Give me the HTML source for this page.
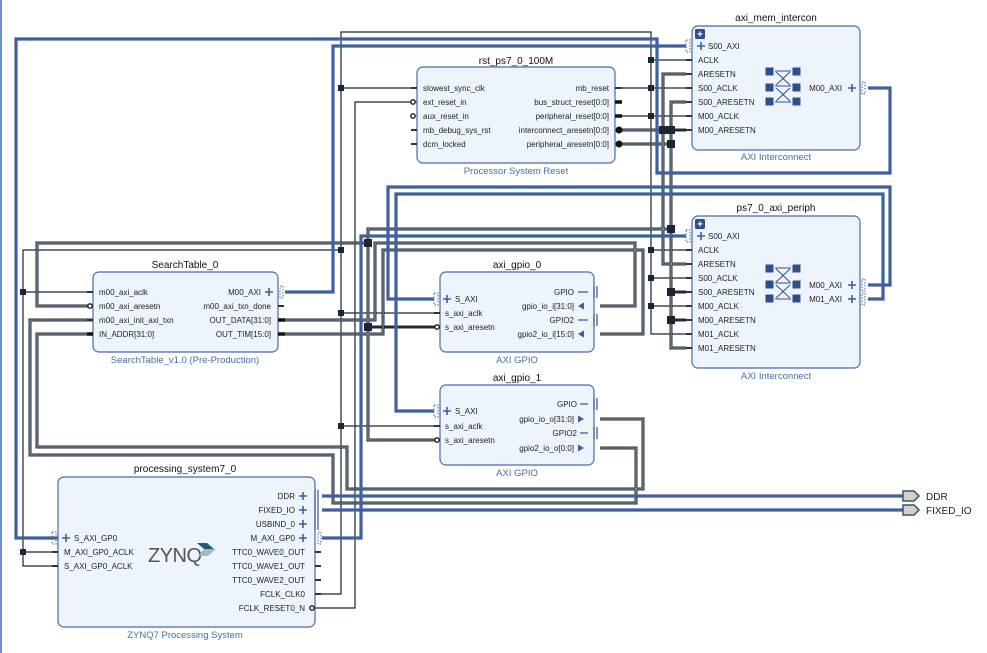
<!DOCTYPE html>
<html><head><meta charset="utf-8"><style>
html,body{margin:0;padding:0;background:#fff;width:987px;height:653px;overflow:hidden}
svg{display:block}
text{font-family:"Liberation Sans",sans-serif}
.p{font-size:8px;fill:#222}
.t{font-size:10px;fill:#111}
.s{font-size:9.5px;fill:#4a6aa8}
.blk{fill:#eef4fc;stroke:#4a6aa8;stroke-width:1.2}
.w{fill:none;stroke:#1a2633;stroke-width:1.2}
.bo{fill:none;stroke:#1f2b36;stroke-width:3}
.bi{fill:none;stroke:#b4c0cb;stroke-width:0.8}
.ax{fill:none;stroke:#3f5f9e;stroke-width:3.2}
.d{fill:#1a2633}
.st{stroke:#333;stroke-width:2}
.pl{stroke:#3f5f9e;stroke-width:1.6}
</style></head><body>
<svg width="987" height="653" viewBox="0 0 987 653" xmlns="http://www.w3.org/2000/svg">
<rect x="0" y="0" width="2" height="653" fill="#6a8fd0"/>

<polyline class="w" points="315,594 341,594 341,32 651,32 651,334 686,334"/>
<line class="w" x1="341" y1="88" x2="417" y2="88"/>
<polyline class="w" points="341,250 23,250 23,566 58,566"/>
<line class="w" x1="23" y1="292" x2="93" y2="292"/>
<line class="w" x1="23" y1="552" x2="58" y2="552"/>
<line class="w" x1="341" y1="313" x2="440" y2="313"/>
<line class="w" x1="341" y1="426" x2="440" y2="426"/>
<line class="w" x1="651" y1="60" x2="686" y2="60"/>
<line class="w" x1="622" y1="88" x2="686" y2="88"/>
<line class="w" x1="622" y1="116" x2="686" y2="116"/>
<line class="w" x1="651" y1="250" x2="686" y2="250"/>
<line class="w" x1="651" y1="278" x2="686" y2="278"/>
<line class="w" x1="651" y1="306" x2="686" y2="306"/>
<polyline class="w" points="315,608 355,608 355,102 417,102"/>

<g>
<polyline class="bo" points="622,130 663,130"/>
<polyline class="bo" points="686,74 663,74 663,264 686,264"/>
<polyline class="bo" points="622,144 671,144"/>
<polyline class="bo" points="686,102 671,102 671,348 686,348"/>
<line class="bo" x1="671" y1="130" x2="686" y2="130"/>
<line class="bo" x1="671" y1="292" x2="686" y2="292"/>
<line class="bo" x1="671" y1="320" x2="686" y2="320"/>
<polyline class="bo" points="671,229 368,229 368,440 440,440"/>
<line class="bo" x1="368" y1="327" x2="440" y2="327"/>
<polyline class="bo" points="368,243 37,243 37,306 93,306"/>
<polyline class="bo" points="600,306 635,306 635,243 375,243 375,320 278,320"/>
<polyline class="bo" points="600,334 643,334 643,250 383,250 383,334 278,334"/>
<polyline class="bo" points="600,419 643,419 643,489 347,489 347,447 37,447 37,334 93,334"/>
<polyline class="bo" points="600,448 636,448 636,503 333,503 333,455 30,455 30,320 93,320"/>
</g>
<g>
<polyline class="bi" points="622,130 663,130"/>
<polyline class="bi" points="686,74 663,74 663,264 686,264"/>
<polyline class="bi" points="622,144 671,144"/>
<polyline class="bi" points="686,102 671,102 671,348 686,348"/>
<polyline class="bi" points="671,229 368,229 368,440 440,440"/>
<polyline class="bi" points="368,243 37,243 37,306 93,306"/>
<polyline class="bi" points="600,306 635,306 635,243 375,243 375,320 278,320"/>
<polyline class="bi" points="600,334 643,334 643,250 383,250 383,334 278,334"/>
<polyline class="bi" points="600,419 643,419 643,489 347,489 347,447 37,447 37,334 93,334"/>
<polyline class="bi" points="600,448 636,448 636,503 333,503 333,455 30,455 30,320 93,320"/>
</g>

<polyline class="ax" points="868,88 890,88 890,173 657,173 657,39 16,39 16,538 58,538"/>
<polyline class="ax" points="285,292 333,292 333,46 686,46"/>
<polyline class="ax" points="322,538 361,538 361,236 686,236"/>
<polyline class="ax" points="868,285 890,285 890,187 388,187 388,299 434,299"/>
<polyline class="ax" points="868,299 883,299 883,194 396,194 396,411 434,411"/>
<line class="ax" x1="322" y1="496" x2="905" y2="496"/>
<line class="ax" x1="322" y1="510" x2="905" y2="510"/>
<path d="M903,491 H914 L919,496 L914,501 H903 Z" fill="#d8d0c8" stroke="#2d5a6a" stroke-width="1.5"/>
<path d="M903,505 H914 L919,510 L914,515 H903 Z" fill="#d8d0c8" stroke="#2d5a6a" stroke-width="1.5"/>
<text x="926" y="500" class="p" style="font-size:10px">DDR</text>
<text x="926" y="514" class="p" style="font-size:10px">FIXED_IO</text>

<g class="d">
<rect x="338" y="85" width="6" height="6"/><rect x="338" y="247" width="6" height="6"/>
<rect x="338" y="310" width="6" height="6"/><rect x="338" y="423" width="6" height="6"/>
<rect x="20" y="289" width="6" height="6"/><rect x="20" y="549" width="6" height="6"/>
<rect x="648" y="57" width="6" height="6"/><rect x="648" y="85" width="6" height="6"/>
<rect x="648" y="113" width="6" height="6"/><rect x="648" y="247" width="6" height="6"/>
<rect x="648" y="275" width="6" height="6"/><rect x="648" y="303" width="6" height="6"/>
<rect x="659" y="126" width="8" height="8"/><rect x="667" y="126" width="8" height="8"/>
<rect x="667" y="140" width="8" height="8"/><rect x="667" y="225" width="8" height="8"/>
<rect x="667" y="288" width="8" height="8"/><rect x="667" y="316" width="8" height="8"/>
<rect x="364" y="239" width="8" height="8"/><rect x="364" y="323" width="8" height="8"/>
</g>

<text x="776" y="21" class="t" text-anchor="middle">axi_mem_intercon</text>
<rect class="blk" x="692" y="26" width="168" height="124" rx="6"/>
<rect x="695" y="29" width="10" height="10" rx="1.5" fill="#2f4f8a"/><text x="700" y="37.5" fill="#fff" font-size="10" text-anchor="middle" font-weight="bold">+</text>
<g class="p">
<text x="708" y="49">S00_AXI</text><text x="698" y="63">ACLK</text><text x="698" y="77">ARESETN</text>
<text x="698" y="91">S00_ACLK</text><text x="698" y="105">S00_ARESETN</text><text x="698" y="119">M00_ACLK</text>
<text x="698" y="133">M00_ARESETN</text><text x="842" y="91" text-anchor="end">M00_AXI</text>
</g>
<text x="776" y="160" class="s" text-anchor="middle">AXI Interconnect</text>

<text x="776" y="211" class="t" text-anchor="middle">ps7_0_axi_periph</text>
<rect class="blk" x="692" y="216" width="168" height="152" rx="6"/>
<rect x="695" y="219" width="10" height="10" rx="1.5" fill="#2f4f8a"/><text x="700" y="227.5" fill="#fff" font-size="10" text-anchor="middle" font-weight="bold">+</text>
<g class="p">
<text x="708" y="239">S00_AXI</text><text x="698" y="253">ACLK</text><text x="698" y="267">ARESETN</text>
<text x="698" y="281">S00_ACLK</text><text x="698" y="295">S00_ARESETN</text><text x="698" y="309">M00_ACLK</text>
<text x="698" y="323">M00_ARESETN</text><text x="698" y="337">M01_ACLK</text><text x="698" y="351">M01_ARESETN</text>
<text x="842" y="288" text-anchor="end">M00_AXI</text><text x="842" y="302" text-anchor="end">M01_AXI</text>
</g>
<text x="776" y="379" class="s" text-anchor="middle">AXI Interconnect</text>

<g fill="#2f4f8a" stroke="#2f4f8a">
<g transform="translate(766,68)"><rect x="0" y="0" width="7" height="7"/><rect x="27" y="0" width="7" height="7"/><rect x="0" y="16" width="7" height="7"/><rect x="27" y="16" width="7" height="7"/><rect x="0" y="30" width="7" height="7"/><rect x="27" y="30" width="7" height="7"/><path d="M9,3 H25 M9,18 H25 M9,34 H25 M10,4 L24,17 M24,4 L10,17 M10,20 L24,33 M24,20 L10,33" fill="none" stroke-width="1"/></g>
<g transform="translate(766,265)"><rect x="0" y="0" width="7" height="7"/><rect x="27" y="0" width="7" height="7"/><rect x="0" y="16" width="7" height="7"/><rect x="27" y="16" width="7" height="7"/><rect x="0" y="30" width="7" height="7"/><rect x="27" y="30" width="7" height="7"/><path d="M9,3 H25 M9,18 H25 M9,34 H25 M10,4 L24,17 M24,4 L10,17 M10,20 L24,33 M24,20 L10,33" fill="none" stroke-width="1"/></g>
</g>

<text x="516" y="64" class="t" text-anchor="middle">rst_ps7_0_100M</text>
<rect class="blk" x="417" y="67" width="198" height="96" rx="6"/>
<g class="p">
<text x="423" y="91">slowest_sync_clk</text><text x="423" y="105">ext_reset_in</text><text x="423" y="119">aux_reset_in</text>
<text x="423" y="133">mb_debug_sys_rst</text><text x="423" y="147">dcm_locked</text>
<text x="609" y="91" text-anchor="end">mb_reset</text><text x="609" y="105" text-anchor="end">bus_struct_reset[0:0]</text>
<text x="609" y="119" text-anchor="end">peripheral_reset[0:0]</text><text x="609" y="133" text-anchor="end">interconnect_aresetn[0:0]</text>
<text x="609" y="147" text-anchor="end">peripheral_aresetn[0:0]</text>
</g>
<text x="516" y="174" class="s" text-anchor="middle">Processor System Reset</text>

<text x="185" y="268" class="t" text-anchor="middle">SearchTable_0</text>
<rect class="blk" x="93" y="272" width="185" height="80" rx="6"/>
<g class="p">
<text x="99" y="295">m00_axi_aclk</text><text x="99" y="309">m00_axi_aresetn</text><text x="99" y="323">m00_axi_init_axi_txn</text><text x="99" y="337">IN_ADDR[31:0]</text>
<text x="261" y="295" text-anchor="end">M00_AXI</text><text x="271" y="309" text-anchor="end">m00_axi_txn_done</text>
<text x="271" y="323" text-anchor="end">OUT_DATA[31:0]</text><text x="271" y="337" text-anchor="end">OUT_TIM[15:0]</text>
</g>
<text x="185" y="363" class="s" text-anchor="middle">SearchTable_v1.0 (Pre-Production)</text>

<text x="517" y="268" class="t" text-anchor="middle">axi_gpio_0</text>
<rect class="blk" x="440" y="272" width="154" height="80" rx="6"/>
<g class="p">
<text x="455" y="302">S_AXI</text><text x="445" y="316">s_axi_aclk</text><text x="445" y="330">s_axi_aresetn</text>
<text x="574" y="295" text-anchor="end">GPIO</text><text x="574" y="309" text-anchor="end">gpio_io_i[31:0]</text>
<text x="574" y="323" text-anchor="end">GPIO2</text><text x="574" y="337" text-anchor="end">gpio2_io_i[15:0]</text>
</g>
<text x="517" y="363" class="s" text-anchor="middle">AXI GPIO</text>

<text x="517" y="381" class="t" text-anchor="middle">axi_gpio_1</text>
<rect class="blk" x="440" y="385" width="154" height="80" rx="6"/>
<g class="p">
<text x="455" y="414">S_AXI</text><text x="445" y="429">s_axi_aclk</text><text x="445" y="443">s_axi_aresetn</text>
<text x="577" y="407" text-anchor="end">GPIO</text><text x="574" y="422" text-anchor="end">gpio_io_o[31:0]</text>
<text x="577" y="436" text-anchor="end">GPIO2</text><text x="574" y="451" text-anchor="end">gpio2_io_o[0:0]</text>
</g>
<text x="517" y="476" class="s" text-anchor="middle">AXI GPIO</text>

<text x="185" y="472" class="t" text-anchor="middle">processing_system7_0</text>
<rect class="blk" x="58" y="477" width="257" height="150" rx="6"/>
<g class="p">
<text x="74" y="541">S_AXI_GP0</text><text x="64" y="555">M_AXI_GP0_ACLK</text><text x="64" y="569">S_AXI_GP0_ACLK</text>
<text x="295" y="499" text-anchor="end">DDR</text><text x="295" y="513" text-anchor="end">FIXED_IO</text>
<text x="295" y="527" text-anchor="end">USBIND_0</text><text x="295" y="541" text-anchor="end">M_AXI_GP0</text>
<text x="305" y="555" text-anchor="end">TTC0_WAVE0_OUT</text><text x="305" y="569" text-anchor="end">TTC0_WAVE1_OUT</text>
<text x="305" y="583" text-anchor="end">TTC0_WAVE2_OUT</text><text x="305" y="597" text-anchor="end">FCLK_CLK0</text>
<text x="305" y="611" text-anchor="end">FCLK_RESET0_N</text>
</g>
<text x="148" y="562" font-size="20" fill="#555" font-family="Liberation Sans,sans-serif" letter-spacing="-0.5">ZYNQ</text>
<path d="M197,543 L207,543 L214,549 L204,549 Z" fill="#1f5a78"/><path d="M204,549 L216,549 L208,556 L198,556 Z" fill="#a8b8c8"/>
<text x="185" y="638" class="s" text-anchor="middle">ZYNQ7 Processing System</text>

<g class="st">
<line x1="411" y1="88" x2="417" y2="88"/><line x1="411" y1="130" x2="417" y2="130"/><line x1="411" y1="144" x2="417" y2="144"/>
<line x1="615" y1="88" x2="622" y2="88"/>
<line x1="686" y1="60" x2="692" y2="60"/><line x1="686" y1="74" x2="692" y2="74"/><line x1="686" y1="88" x2="692" y2="88"/>
<line x1="686" y1="102" x2="692" y2="102"/><line x1="686" y1="116" x2="692" y2="116"/><line x1="686" y1="130" x2="692" y2="130"/>
<line x1="686" y1="250" x2="692" y2="250"/><line x1="686" y1="264" x2="692" y2="264"/><line x1="686" y1="278" x2="692" y2="278"/>
<line x1="686" y1="292" x2="692" y2="292"/><line x1="686" y1="306" x2="692" y2="306"/><line x1="686" y1="320" x2="692" y2="320"/>
<line x1="686" y1="334" x2="692" y2="334"/><line x1="686" y1="348" x2="692" y2="348"/>
<line x1="87" y1="292" x2="93" y2="292"/><line x1="87" y1="320" x2="93" y2="320"/>
<line x1="278" y1="306" x2="284" y2="306"/>
<line x1="434" y1="313" x2="440" y2="313"/><line x1="434" y1="426" x2="440" y2="426"/>
<line x1="52" y1="552" x2="58" y2="552"/><line x1="52" y1="566" x2="58" y2="566"/>
<line x1="315" y1="552" x2="321" y2="552"/><line x1="315" y1="566" x2="321" y2="566"/><line x1="315" y1="580" x2="321" y2="580"/>
<line x1="315" y1="594" x2="321" y2="594"/>
</g>
<g stroke="#111" stroke-width="3.5">
<line x1="615" y1="102" x2="622" y2="102"/><line x1="615" y1="116" x2="622" y2="116"/>
<line x1="87" y1="334" x2="93" y2="334"/><line x1="278" y1="320" x2="285" y2="320"/><line x1="278" y1="334" x2="285" y2="334"/>
</g>
<g fill="#fff" stroke="#111" stroke-width="1.3">
<circle cx="413" cy="102" r="2.2"/><circle cx="413" cy="116" r="2.2"/><circle cx="90" cy="306" r="2.2"/>
<circle cx="437" cy="327" r="2.2"/><circle cx="437" cy="440" r="2.2"/><circle cx="312" cy="608" r="2.2"/>
</g>
<g fill="#111"><circle cx="619" cy="130" r="3.5"/><circle cx="619" cy="144" r="3.5"/></g>
<g fill="#3f5f9e">
<path d="M584,306 L578,302.5 L578,309.5 Z" transform="rotate(180 581 306)"/>
<path d="M584,334 L578,330.5 L578,337.5 Z" transform="rotate(180 581 334)"/>
<path d="M584,419 L578,415.5 L578,422.5 Z"/><path d="M584,448 L578,444.5 L578,451.5 Z"/>
</g>
<g stroke="#3f5f9e" stroke-width="1.3">
<line x1="578" y1="292" x2="588" y2="292"/><line x1="594" y1="286" x2="594" y2="298"/><line x1="597" y1="286" x2="597" y2="298"/>
<line x1="578" y1="320" x2="588" y2="320"/><line x1="594" y1="314" x2="594" y2="326"/><line x1="597" y1="314" x2="597" y2="326"/>
<line x1="580" y1="404" x2="588" y2="404"/><line x1="594" y1="398" x2="594" y2="410"/><line x1="597" y1="398" x2="597" y2="410"/>
<line x1="580" y1="433" x2="588" y2="433"/><line x1="594" y1="427" x2="594" y2="439"/><line x1="597" y1="427" x2="597" y2="439"/>
<line x1="315" y1="490" x2="315" y2="530"/><line x1="318" y1="490" x2="318" y2="530"/>
</g>
<g class="pl">
<path d="M697,46 h8 M701,42 v8"/><path d="M697,236 h8 M701,232 v8"/>
<path d="M848,88 h8 M852,84 v8"/><path d="M848,285 h8 M852,281 v8"/><path d="M848,299 h8 M852,295 v8"/>
<path d="M265,292 h8 M269,288 v8"/>
<path d="M443,299 h8 M447,295 v8"/><path d="M443,411 h8 M447,407 v8"/>
<path d="M62,538 h8 M66,534 v8"/>
<path d="M299,496 h8 M303,492 v8"/><path d="M299,510 h8 M303,506 v8"/><path d="M299,524 h8 M303,520 v8"/><path d="M299,538 h8 M303,534 v8"/>
</g>
<g fill="none" stroke="#3f5f9e" stroke-width="1" stroke-dasharray="1.5,1.5">
<rect x="686" y="40" width="4" height="12"/><rect x="686" y="230" width="4" height="12"/>
<rect x="862" y="82" width="3" height="12"/><rect x="862" y="279" width="3" height="12"/><rect x="862" y="293" width="3" height="12"/>
<rect x="280" y="286" width="3" height="12"/>
<rect x="434" y="293" width="4" height="12"/><rect x="434" y="405" width="4" height="12"/>
<rect x="52" y="532" width="4" height="12"/><rect x="318" y="532" width="3" height="12"/>
</g>
</svg>
</body></html>
